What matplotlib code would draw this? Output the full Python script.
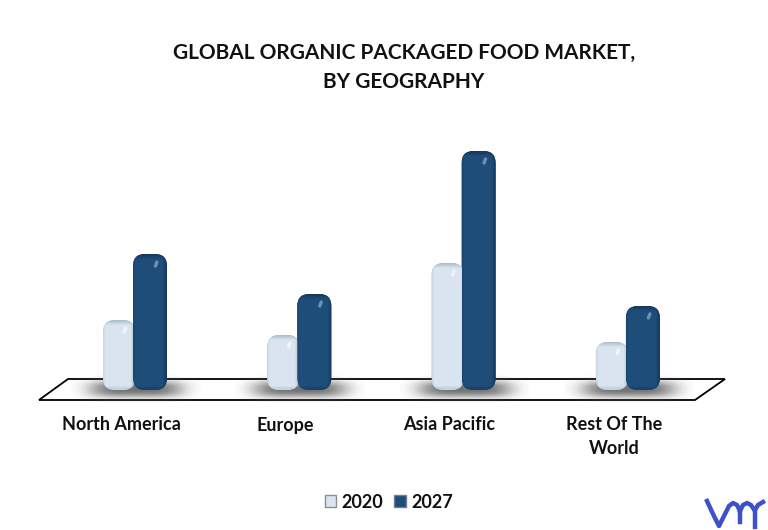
import numpy as np
import matplotlib
matplotlib.use("Agg")
import matplotlib.pyplot as plt
from matplotlib.patches import FancyBboxPatch, Polygon, Patch

plt.rcParams['font.family'] = ['Lato', 'DejaVu Sans']

# data (arbitrary units, no axis in the original)
categories = ['North America', 'Europe', 'Asia Pacific', 'Rest Of The\nWorld']
values_2020 = [70, 55, 127, 48]
values_2027 = [136, 96, 239, 84]

W, H = 768, 530
BASE_Y = 390      # pixel row of value 0
STEP = 164.3      # pixels between categories
FIRST = 121       # pixel column of first category


def px(x):
    return (x - FIRST) / STEP


def py(y):
    return BASE_Y - y


def shaded_bar(ax, i, left, width, value, rgb, edge_dark, hi):
    x0 = px(FIRST + i * STEP + left)
    w = width / STEP
    # dark back piece gives the bevel at the top
    back = FancyBboxPatch((x0, 0), w, value, boxstyle=f"round,pad=0,rounding_size={12 / STEP}",
                          mutation_aspect=STEP, fc=edge_dark, ec='none', zorder=3)
    ax.add_patch(back)
    xs = np.linspace(0, width, 60)[None, :]
    ys = np.linspace(0, value, 300)[:, None]
    # darker towards right and top/bottom edges
    d = np.clip((width - xs) / 4.0, 0, 1) * np.clip(xs / 1.5, 0.7, 1)
    d = d * np.clip((value - ys) / 5.0, 0, 1) * np.clip(ys / 4.0, 0.55, 1)
    img = np.zeros((300, 60, 3))
    for c in range(3):
        img[:, :, c] = edge_dark[c] + (rgb[c] - edge_dark[c]) * d
    im = ax.imshow(img, origin='lower', extent=(x0, x0 + w, 0, value), aspect='auto', zorder=4,
                   interpolation='bilinear')
    im.set_clip_path(back)
    # small glossy spot near the top
    hx = x0 + w * 0.66
    ax.plot([hx, hx + 1.5 / STEP], [value - 12, value - 8], color=hi, lw=2.4, alpha=0.6,
            solid_capstyle='round', zorder=5)


fig = plt.figure(figsize=(W / 100, H / 100), dpi=100)
ax = fig.add_axes([0, 0, 1, 1])
ax.set_xlim(px(0), px(W))
ax.set_ylim(py(H), py(0))
ax.axis('off')

# floor
floor = Polygon([(px(39), py(400)), (px(68), py(379)), (px(725), py(379)), (px(695), py(400))],
                closed=True, fc='white', ec='black', lw=1.3, zorder=1)
ax.add_patch(floor)

# soft shadow under each bar group
for i in range(len(categories)):
    cx = FIRST + i * STEP + 15
    xx, yy = np.meshgrid(np.linspace(-65, 65, 180), np.linspace(-14, 14, 60))
    a = np.exp(-(np.abs(xx / 47) ** 4 + np.abs(yy / 8.5) ** 2.5))
    rgba = np.zeros((60, 180, 4))
    rgba[:, :, :3] = 0.45
    rgba[:, :, 3] = a
    ax.imshow(rgba, extent=(px(cx - 65), px(cx + 65), py(403), py(375)), aspect='auto', zorder=2)

light = (0.855, 0.898, 0.945)
light_edge = (0.66, 0.74, 0.79)
dark = (0.118, 0.302, 0.482)
dark_edge = (0.085, 0.215, 0.35)

for i, cat in enumerate(categories):
    shaded_bar(ax, i, -18, 32, values_2020[i], light, light_edge, 'white')
    shaded_bar(ax, i, 12, 34, values_2027[i], dark, dark_edge, '#9fc0d8')
    label_y = 436.5 if '\n' in cat else 425
    ax.text(i, py(label_y), cat, ha='center', va='center', fontsize=13, fontweight='bold',
            color='#111111', linespacing=1.55, zorder=6)

ax.set_xlim(px(0), px(W))
ax.set_ylim(py(H), py(0))

ax.text(px(404), py(67.5), 'GLOBAL ORGANIC PACKAGED FOOD MARKET,\nBY GEOGRAPHY', ha='center', va='center',
        fontsize=15, fontweight='bold', color='#111111', linespacing=1.62)

leg = ax.legend(handles=[Patch(fc=light, ec='#8a8f96', label='2020'), Patch(fc=dark, ec='#6f7f8f', label='2027')],
                loc='center', bbox_to_anchor=(389 / W, 1 - 502 / H), ncol=2, frameon=False,
                prop={'weight': 'bold', 'size': 13}, handlelength=0.62, handleheight=0.62,
                handletextpad=0.3, columnspacing=0.6)
for t in leg.get_texts():
    t.set_color('#111111')

# logo
logo_strokes = [
    ([707, 713, 719, 725, 729, 733, 737, 740, 740], [501, 514, 526, 514, 506, 503, 505, 511, 522]),
    ([740, 743, 747, 751, 755, 755], [511, 505, 503, 505, 511, 527]),
    ([755, 758, 763], [510, 505, 502]),
]
for sx, sy in logo_strokes:
    ax.plot([px(v) for v in sx], [py(v) for v in sy], color='#3f51c8', lw=3.2, zorder=6,
            solid_joinstyle='round')

fig.savefig('out.png', dpi=100)
